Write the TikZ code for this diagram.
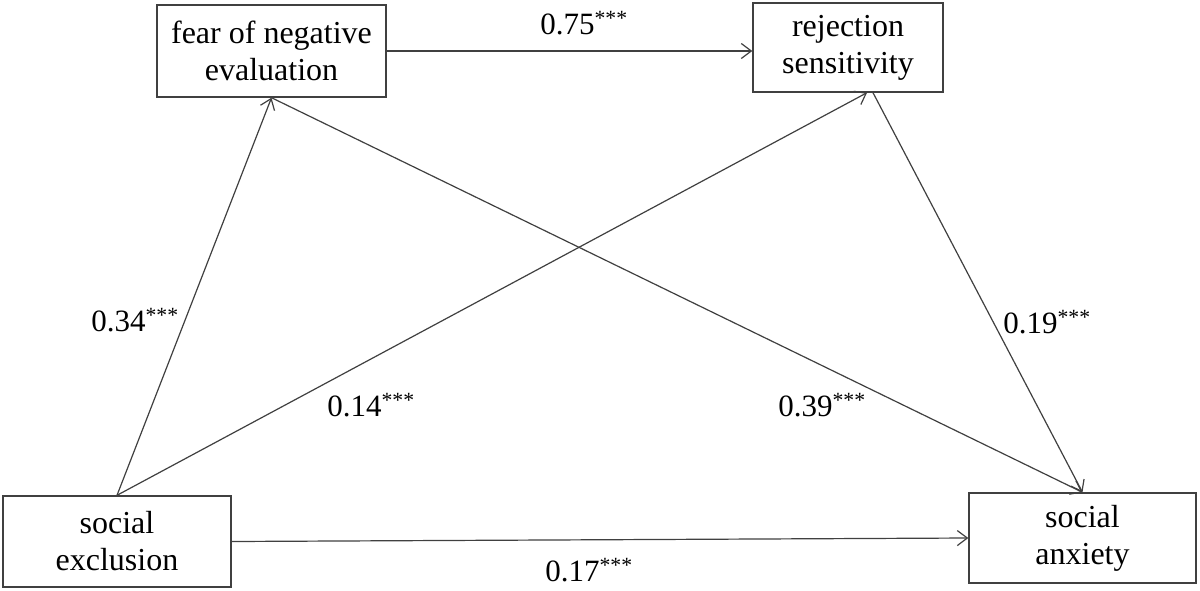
\documentclass[tikz,border=0pt]{standalone}
\usepackage{fontspec}
\setmainfont{Liberation Serif}
\usetikzlibrary{arrows.meta}
\tikzset{
  boxnode/.style={draw=black!75, line width=1.4pt, fill=white, rectangle, align=center, inner sep=0pt,
    font=\fontsize{32}{37}\selectfont},
  conn/.style={draw=black!75, line width=1.2pt, -{Straight Barb[length=10pt,width=15pt,line width=1.2pt]}},
  lab/.style={font=\fontsize{31}{34}\selectfont, inner sep=0pt},
}
\newcommand{\stars}{\textsuperscript{***}}
\begin{document}
\begin{tikzpicture}[x=1pt,y=-1pt]
\useasboundingbox[fill=white] (0,0) rectangle (1200,590);
\node[boxnode, minimum width=229pt, minimum height=92pt] (fear) at (271.5,51) {fear of negative\\evaluation};
\node[boxnode, minimum width=190pt, minimum height=89pt] (rej) at (848,47.5) {rejection\\sensitivity};
\node[boxnode, minimum width=228pt, minimum height=91pt] (excl) at (117,541.5) {social\\exclusion};
\node[boxnode, minimum width=227pt, minimum height=90pt] (anx) at (1082.5,538) {social\\anxiety};
\coordinate (rejin) at ([xshift=19pt]rej.south);
\coordinate (rejout) at ([xshift=25pt]rej.south);
\draw[conn] (fear.east) -- (fear.east -| rej.west);
\draw[conn] (excl.north) -- (fear.south);
\draw[conn] (excl.north) -- (rejin);
\draw[conn] (fear.south) -- (anx.north);
\draw[conn] (rejout) -- (anx.north);
\draw[conn] (excl.east) -- (anx.west);
\node[lab] (l75) at (584,23) {0.75\stars};
\node[lab] (l34) at (135,320) {0.34\stars};
\node[lab] (l14) at (371,405) {0.14\stars};
\node[lab] (l19) at (1047,322) {0.19\stars};
\node[lab] (l39) at (822,405) {0.39\stars};
\node[lab] (l17) at (589,570) {0.17\stars};
\end{tikzpicture}
\end{document}
